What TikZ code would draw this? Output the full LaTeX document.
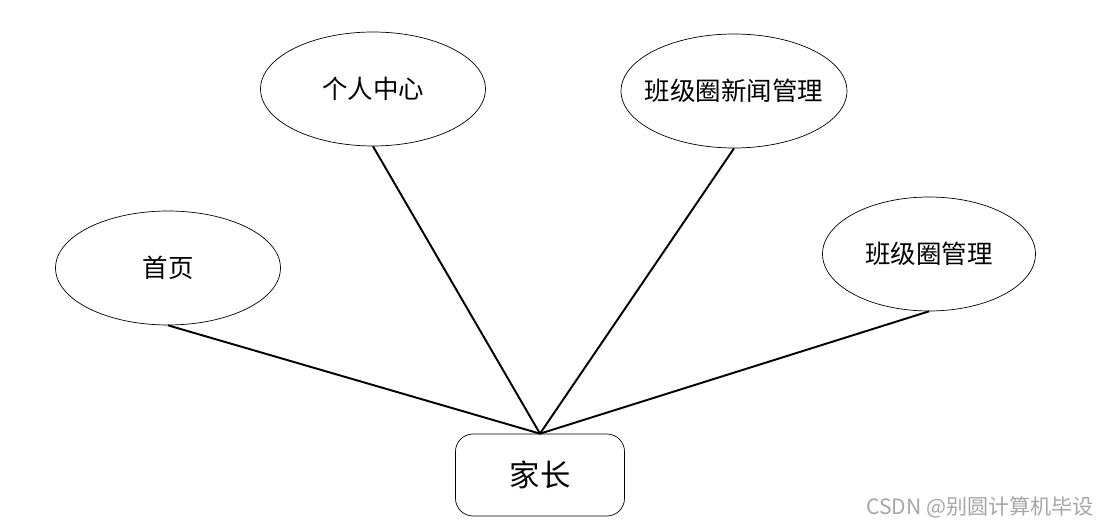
\documentclass[tikz,border=0pt]{standalone}
\usepackage{fontspec}
\setmainfont{Noto Sans CJK SC}
\usetikzlibrary{shapes.geometric}
\tikzset{
  func/.style={draw, ellipse, inner xsep=-0.9cm, inner ysep=0pt, minimum width=4.5cm, minimum height=2.28cm, font=\fontsize{14.5}{17}\selectfont},
  role/.style={draw, rectangle, rounded corners=0.35cm, minimum width=3.38cm, minimum height=1.64cm, font=\LARGE},
  link/.style={draw, line width=1.1pt}
}
\begin{document}
\begin{tikzpicture}[x=0.02cm, y=-0.02cm]
\useasboundingbox (0,0) rectangle (1100,526);

\node [role                         ] (parent) at (540,475) {家长};
\node [func                         ] (home)   at (168,268) {首页};
\node [func                         ] (center) at (373,89)  {个人中心};
\node [func, minimum width=4.52cm   ] (news)   at (734,91)  {班级圈新闻管理};
\node [func, minimum width=4.26cm   ] (circle) at (929,254) {班级圈管理};

\path [link] (home.south)   -- (parent.north);
\path [link] (center.south) -- (parent.north);
\path [link] (news.south)   -- (parent.north);
\path [link] (circle.south) -- (parent.north);

\node [text=gray!70, font=\large] (mark) at (980,507) {CSDN @别圆计算机毕设};

\end{tikzpicture}
\end{document}
